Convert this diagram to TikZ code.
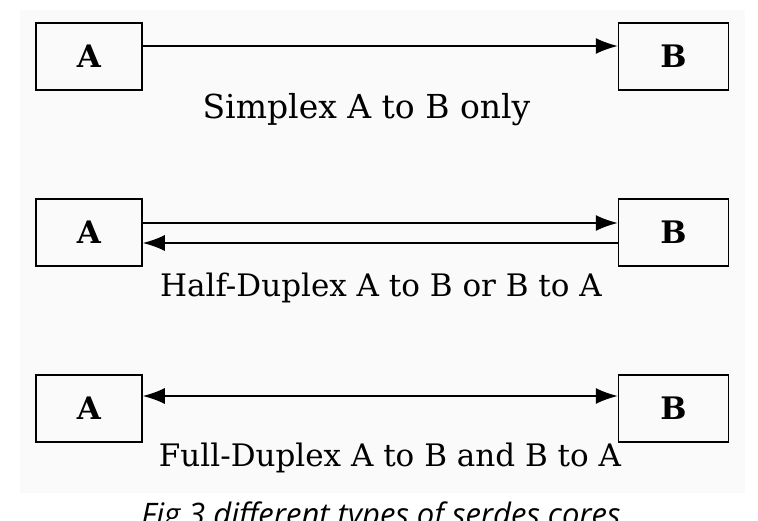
\documentclass[tikz,border=0pt]{standalone}
\usepackage{fontspec}
\setmainfont{DejaVu Serif}
\newfontfamily\capfont{Open Sans}
\usetikzlibrary{arrows.meta, positioning}

\begin{document}
\begin{tikzpicture}[x=1pt, y=-1pt, node distance=475pt,
  unit/.style={draw, line width=1.5pt, minimum height=67pt, inner sep=0pt,
               font=\fontsize{31}{34}\selectfont\bfseries},
  note/.style={font=\fontsize{31}{34}\selectfont, inner sep=0pt},
  arrow/.style={-{Latex[length=22pt,width=16pt]}, line width=1.5pt},
  twoway/.style={{Latex[length=22pt,width=16pt]}-{Latex[length=22pt,width=16pt]}, line width=1.5pt}]

  \useasboundingbox (0,0) rectangle (758,521);
  \clip (0,0) rectangle (758,521);
  \fill[black!2] (20,10) rectangle (745,493);

  % simplex
  \node[unit, minimum width=106pt] (a1) at (89,56.5) {A};
  \node[unit, minimum width=110pt, right=of a1] (b1) {B};
  \draw[arrow] ([yshift=10.5pt]a1.east) -- ([yshift=10.5pt]b1.west);
  \node[note, font=\fontsize{33}{36}\selectfont] (n1) at (366.5,110) {Simplex A to B only};

  % half duplex
  \node[unit, minimum width=106pt] (a2) at (89,232.5) {A};
  \node[unit, minimum width=110pt, right=of a2] (b2) {B};
  \draw[arrow] ([yshift=9.5pt]a2.east) -- ([yshift=9.5pt]b2.west);
  \draw[arrow] ([yshift=-10.5pt]b2.west) -- ([yshift=-10.5pt]a2.east);
  \node[note] (n2) at (381,288) {Half-Duplex A to B or B to A};

  % full duplex
  \node[unit, minimum width=106pt] (a3) at (89,408.5) {A};
  \node[unit, minimum width=110pt, right=of a3] (b3) {B};
  \draw[twoway] ([yshift=12.5pt]a3.east) -- ([yshift=12.5pt]b3.west);
  \node[note] (n3) at (390,458) {Full-Duplex A to B and B to A};

  \node[font=\capfont\itshape\fontsize{31}{34}\selectfont, anchor=base, inner sep=0pt]
    (cap) at (381,525) {Fig 3 different types of serdes cores};
\end{tikzpicture}
\end{document}
